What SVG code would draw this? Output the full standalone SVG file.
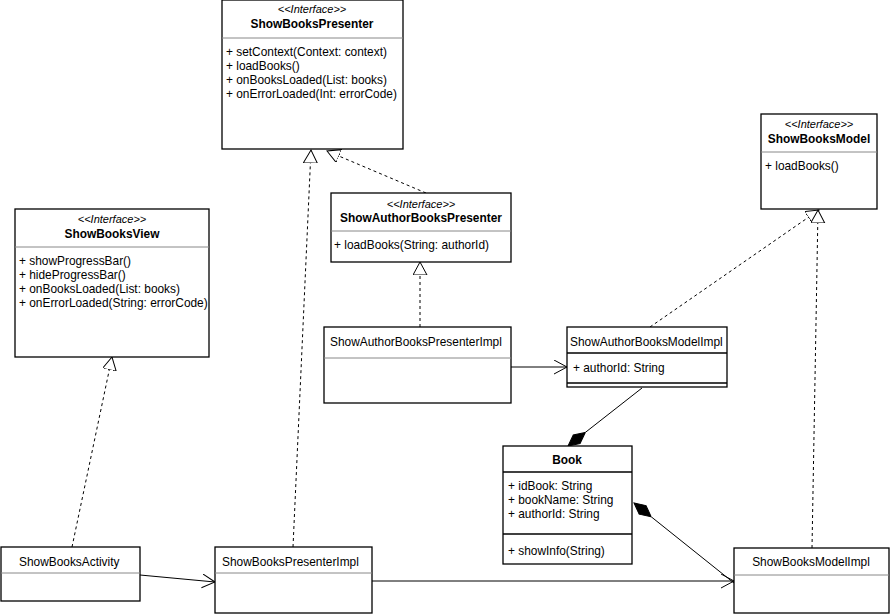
<svg xmlns="http://www.w3.org/2000/svg" width="890" height="614" viewBox="0 0 890 614">
<style>
text{font-family:"Liberation Sans",Arial,sans-serif;font-size:11.9px;fill:#000}
.b{font-weight:bold;text-anchor:middle}
.i{font-style:italic;text-anchor:middle;font-size:11px}
.c{text-anchor:middle}
.box{fill:#fff;stroke:#000;stroke-width:1.3}
.sep{stroke:#888;stroke-width:1}
.sepk{stroke:#000;stroke-width:1.3}
.d{fill:none;stroke:#000;stroke-dasharray:3,3}
.s{fill:none;stroke:#000}
</style>
<defs>
<marker id="tri" markerWidth="16" markerHeight="16" refX="13" refY="7" orient="auto" markerUnits="userSpaceOnUse"><path d="M0,0 L13,7 L0,14 Z" fill="#fff" stroke="#000"/></marker>
<marker id="open" markerWidth="16" markerHeight="16" refX="13" refY="7" orient="auto" markerUnits="userSpaceOnUse"><path d="M0,0 L13,7 L0,14" fill="none" stroke="#000"/></marker>
<marker id="dia" markerWidth="24" markerHeight="14" refX="22" refY="7" orient="auto" markerUnits="userSpaceOnUse"><path d="M0,7 L11,1.5 L22,7 L11,12.5 Z" fill="#000" stroke="#000"/></marker>
</defs>
<g id="connectors">
<path class="d" d="M293,547 L311,150" marker-end="url(#tri)"/>
<path class="d" d="M426,193 L327,151" marker-end="url(#tri)"/>
<path class="d" d="M420,327 L420,262" marker-end="url(#tri)"/>
<path class="d" d="M650,327 L819,210" marker-end="url(#tri)"/>
<path class="d" d="M812,548 L818,210" marker-end="url(#tri)"/>
<path class="d" d="M72,547 L112,357" marker-end="url(#tri)"/>
<path class="s" d="M140,575 L215,582" marker-end="url(#open)"/>
<path class="s" d="M372,581 L734,581" marker-end="url(#open)"/>
<path class="s" d="M511,367 L567,367" marker-end="url(#open)"/>
<path class="s" d="M642,388 L568,446" marker-end="url(#dia)"/>
<path class="s" d="M734,583 L634,503" marker-end="url(#dia)"/>
</g>
<g id="ShowBooksPresenter">
<rect class="box" x="222" y="0" width="181" height="149"/>
<text class="i" x="312" y="13">&lt;&lt;Interface&gt;&gt;</text>
<text class="b" x="312" y="28">ShowBooksPresenter</text>
<line class="sep" x1="222" y1="38" x2="403" y2="38"/>
<text x="226" y="56">+ setContext(Context: context)</text>
<text x="226" y="70">+ loadBooks()</text>
<text x="226" y="84">+ onBooksLoaded(List: books)</text>
<text x="226" y="98">+ onErrorLoaded(Int: errorCode)</text>
</g>
<g id="ShowAuthorBooksPresenter">
<rect class="box" x="331" y="193" width="180" height="69"/>
<text class="i" x="421" y="208">&lt;&lt;Interface&gt;&gt;</text>
<text class="b" x="421" y="222">ShowAuthorBooksPresenter</text>
<line class="sep" x1="331" y1="231" x2="511" y2="231"/>
<text x="334" y="249">+ loadBooks(String: authorId)</text>
</g>
<g id="ShowBooksModel">
<rect class="box" x="761" y="114" width="116" height="95"/>
<text class="i" x="819" y="128">&lt;&lt;Interface&gt;&gt;</text>
<text class="b" x="819" y="143">ShowBooksModel</text>
<line class="sep" x1="761" y1="152" x2="877" y2="152"/>
<text x="765" y="170">+ loadBooks()</text>
</g>
<g id="ShowBooksView">
<rect class="box" x="15" y="209" width="194" height="148"/>
<text class="i" x="112" y="223">&lt;&lt;Interface&gt;&gt;</text>
<text class="b" x="112" y="238">ShowBooksView</text>
<line class="sep" x1="15" y1="247" x2="209" y2="247"/>
<text x="19" y="265">+ showProgressBar()</text>
<text x="19" y="279">+ hideProgressBar()</text>
<text x="19" y="293">+ onBooksLoaded(List: books)</text>
<text x="19" y="307">+ onErrorLoaded(String: errorCode)</text>
</g>
<g id="ShowAuthorBooksPresenterImpl">
<rect class="box" x="324" y="327" width="187" height="76"/>
<text x="330" y="346">ShowAuthorBooksPresenterImpl</text>
<line class="sep" x1="324" y1="358" x2="511" y2="358"/>
</g>
<g id="ShowAuthorBooksModelImpl">
<rect class="box" x="567" y="327" width="160" height="60"/>
<text x="570" y="346">ShowAuthorBooksModelImpl</text>
<line class="sepk" x1="567" y1="353" x2="727" y2="353"/>
<text x="573" y="372">+ authorId: String</text>
<line class="sepk" x1="567" y1="383" x2="727" y2="383"/>
</g>
<g id="Book">
<rect class="box" x="503" y="446" width="129" height="118"/>
<text class="b" x="567" y="464">Book</text>
<line class="sepk" x1="503" y1="472" x2="632" y2="472"/>
<text x="508" y="490">+ idBook: String</text>
<text x="508" y="504">+ bookName: String</text>
<text x="508" y="518">+ authorId: String</text>
<line class="sepk" x1="503" y1="534" x2="632" y2="534"/>
<text x="508" y="555">+ showInfo(String)</text>
</g>
<g id="ShowBooksActivity">
<rect class="box" x="1" y="547" width="139" height="54"/>
<text x="19" y="566">ShowBooksActivity</text>
<line class="sep" x1="1" y1="573" x2="140" y2="573"/>
</g>
<g id="ShowBooksPresenterImpl">
<rect class="box" x="215" y="547" width="157" height="66"/>
<text x="222" y="566">ShowBooksPresenterImpl</text>
<line class="sep" x1="215" y1="573" x2="372" y2="573"/>
</g>
<g id="ShowBooksModelImpl">
<rect class="box" x="734" y="548" width="155" height="65"/>
<text class="c" x="811" y="566">ShowBooksModelImpl</text>
<line class="sep" x1="734" y1="575" x2="889" y2="575"/>
</g>
</svg>
